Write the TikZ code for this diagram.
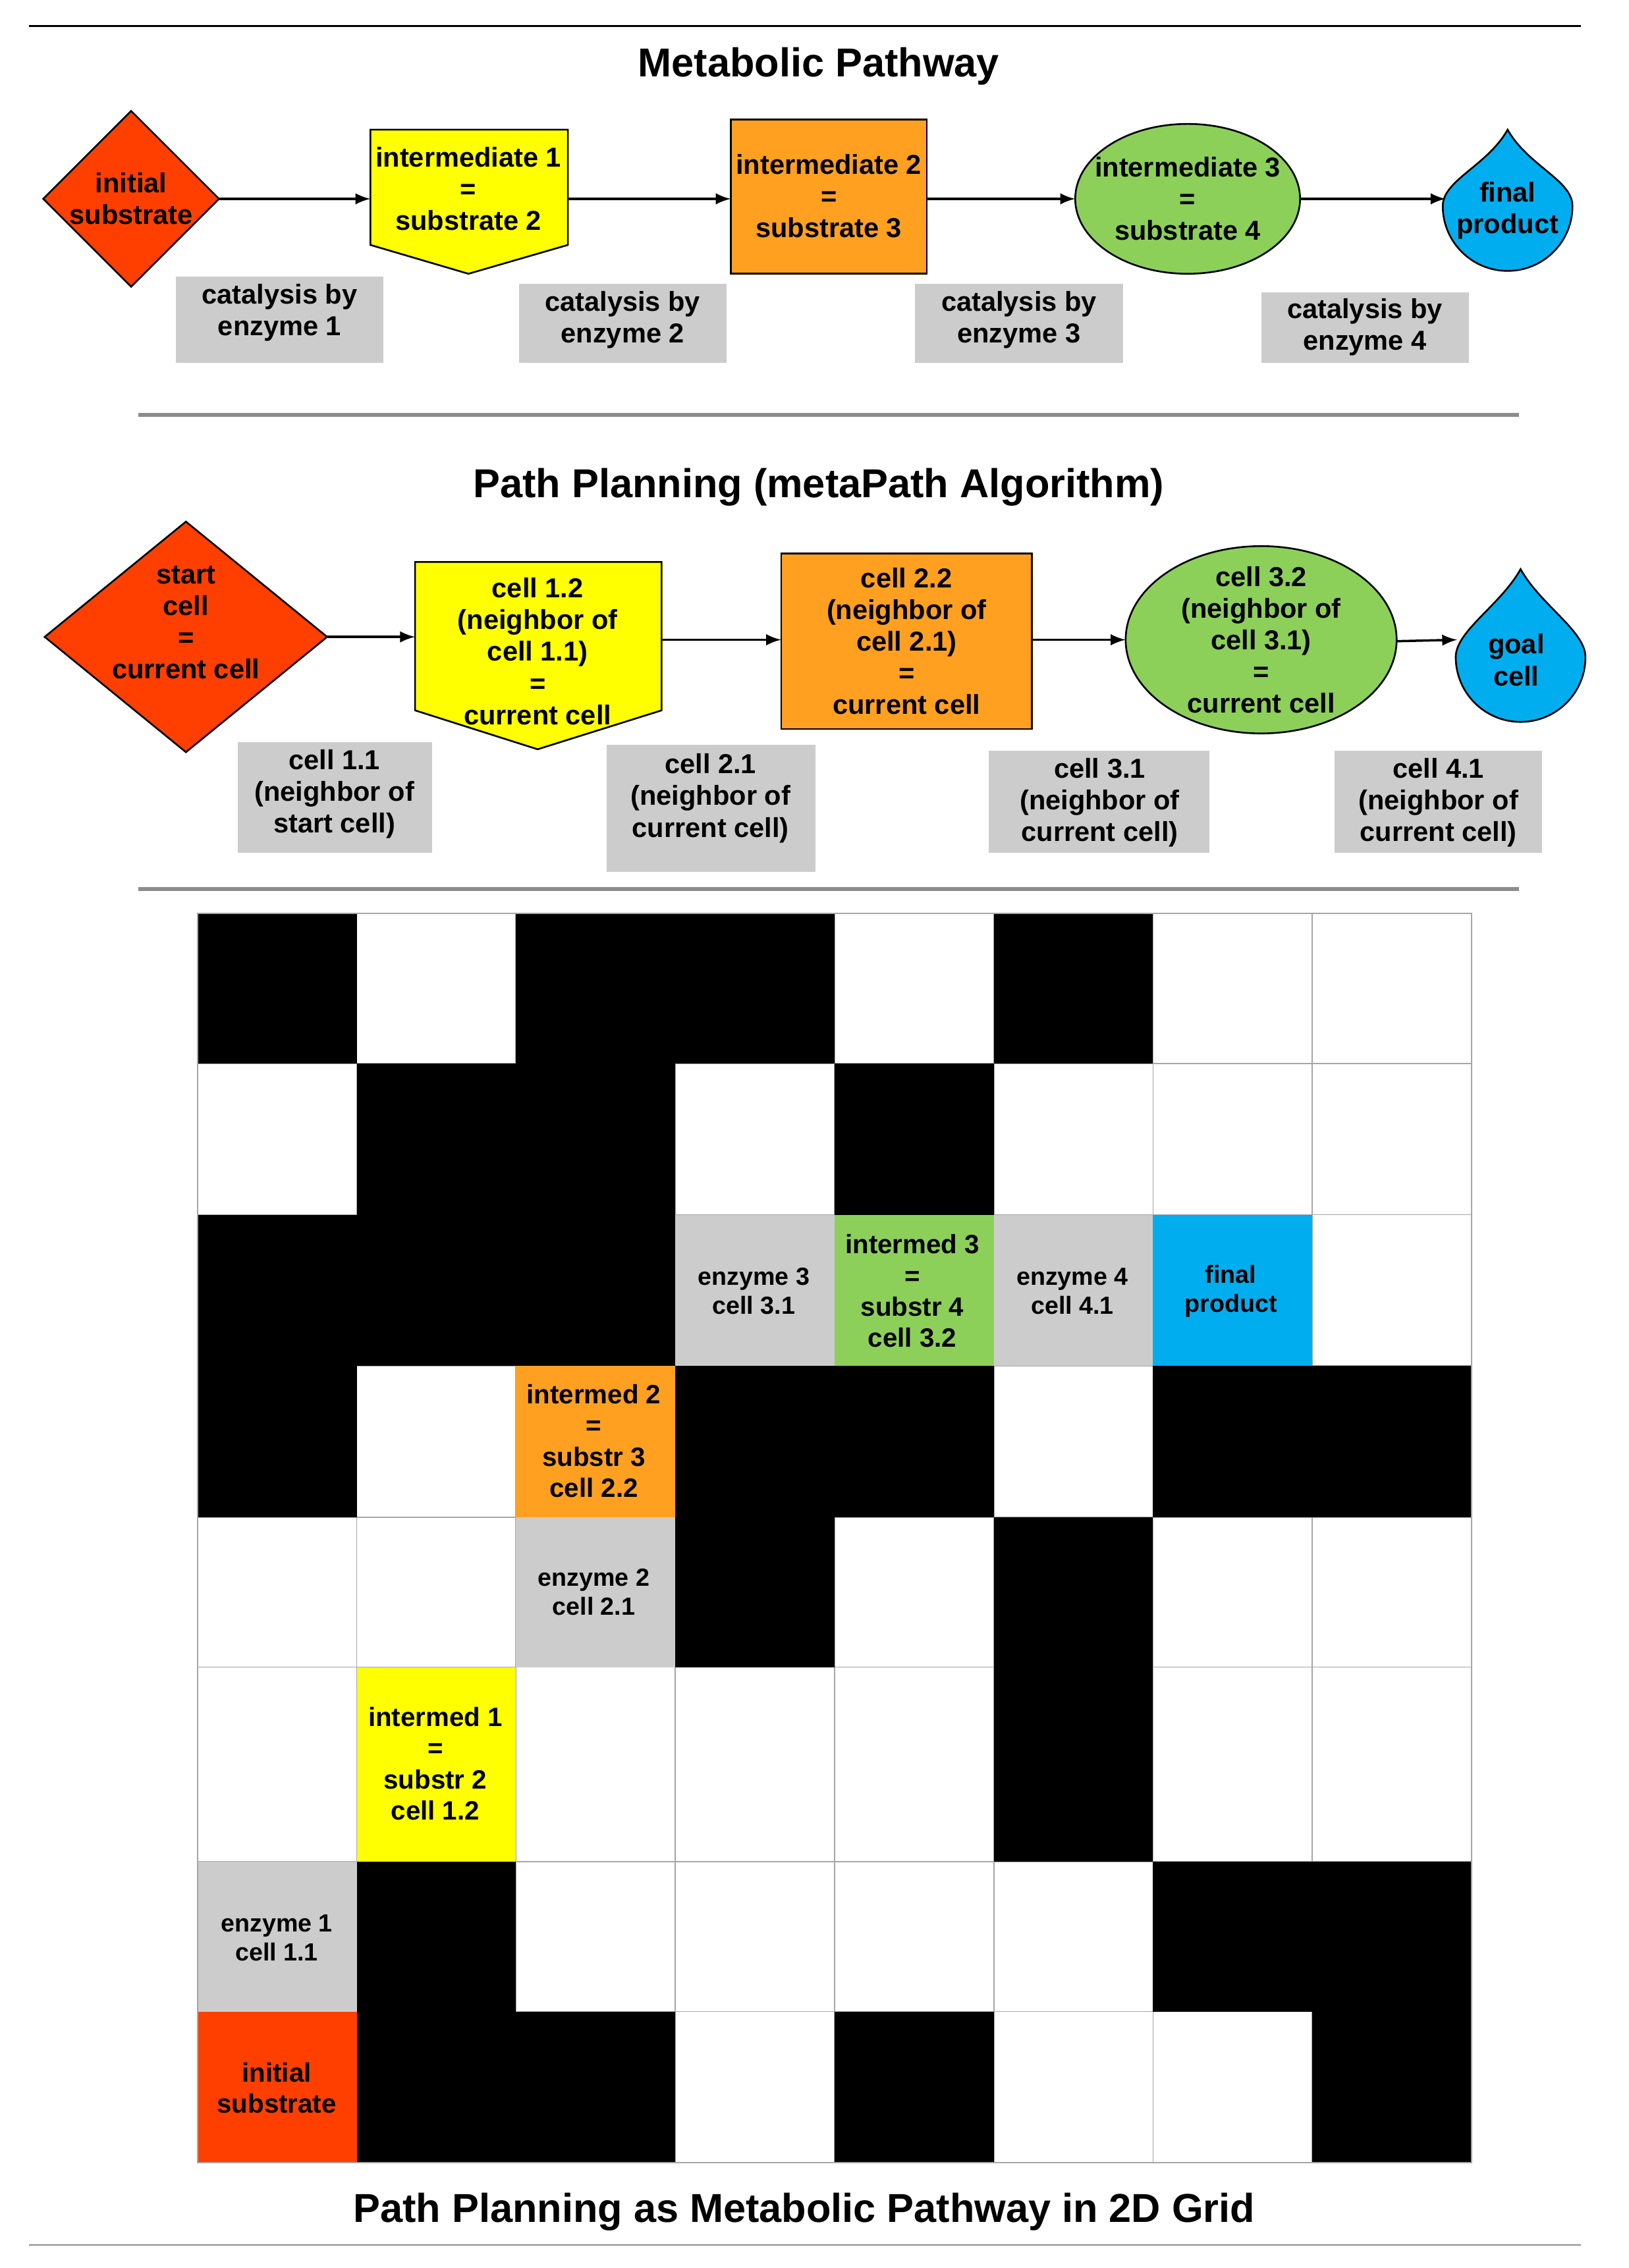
\documentclass[tikz,border=0pt]{standalone}
\usepackage{fontspec}
\setmainfont{Liberation Sans}
\definecolor{cred}{HTML}{FF3F00}
\definecolor{cyel}{HTML}{FFFF00}
\definecolor{cora}{HTML}{FFA020}
\definecolor{cgrn}{HTML}{8CD05A}
\definecolor{cblu}{HTML}{00AEEF}
\definecolor{cgry}{HTML}{CCCCCC}
\begin{document}
\begin{tikzpicture}[x=0.5pt,y=-0.5pt,
  lbl/.style={font=\bfseries\fontsize{9.5}{11}\selectfont,align=center,inner sep=0pt},
  ttl/.style={font=\bfseries\fontsize{14}{17}\selectfont,inner sep=0pt},
  cel/.style={font=\bfseries\fontsize{9.2}{10.8}\selectfont,align=center,inner sep=0pt},
  cels/.style={font=\bfseries\fontsize{8.6}{10}\selectfont,align=center,inner sep=0pt},
  shp/.style={draw=black,line width=0.6pt},
  arr/.style={-latex,line width=0.8pt},
  sep/.style={draw=black!45,line width=1.5pt}]
\useasboundingbox (0,0) rectangle (1130,1574);
\draw[line width=0.6pt] (20,18) -- (1097,18);
\node[ttl] (t1) at (568,46) {Metabolic Pathway};
% row 1 shapes
\draw[shp,fill=cred] (91,77) -- (152,138) -- (91,199) -- (30,138) -- cycle;
\node[lbl] (a1) at (91,138) {initial\\substrate};
\draw[shp,fill=cyel] (257,90) -- (394,90) -- (394,170) -- (325,190) -- (257,170) -- cycle;
\node[lbl] (a2) at (325,131) {intermediate 1\\=\\substrate 2};
\draw[shp,fill=cora] (507,83) rectangle (643,190);
\node[lbl] (a3) at (575,136) {intermediate 2\\=\\substrate 3};
\draw[shp,fill=cgrn] (824,138) ellipse [x radius=78,y radius=52];
\node[lbl] (a4) at (824,138) {intermediate 3\\=\\substrate 4};
\draw[shp,fill=cblu] (1046,90) .. controls (1060,115) and (1091,125) .. (1091,143) arc[start angle=0,end angle=180,radius=45] .. controls (1001,125) and (1032,115) .. (1046,90) -- cycle;
\node[lbl] (a5) at (1046,146) {final\\product};
\coordinate (e1) at (152,138); \coordinate (s2) at (257,138);
\coordinate (e2) at (394,138); \coordinate (s3) at (507,138);
\coordinate (e3) at (643,138); \coordinate (s4) at (746,138);
\coordinate (e4) at (902,138); \coordinate (s5) at (1003,138);
\draw[arr] (e1) -- (s2); \draw[arr] (e2) -- (s3); \draw[arr] (e3) -- (s4); \draw[arr] (e4) -- (s5);
\fill[cgry] (122,192) rectangle (266,252); \node[lbl] (c1) at (194,217) {catalysis by\\enzyme 1};
\fill[cgry] (360,197) rectangle (504,252); \node[lbl] (c2) at (432,222) {catalysis by\\enzyme 2};
\fill[cgry] (635,197) rectangle (779,252); \node[lbl] (c3) at (707,222) {catalysis by\\enzyme 3};
\fill[cgry] (875,203) rectangle (1019,252); \node[lbl] (c4) at (947,227) {catalysis by\\enzyme 4};
\draw[sep] (96,288) -- (1054,288);
% row 2
\node[ttl] (t2) at (568,338) {Path Planning (metaPath Algorithm)};
\draw[shp,fill=cred] (129,362) -- (227,442) -- (129,522) -- (31,442) -- cycle;
\node[lbl] (b1) at (129,432) {start\\cell\\=\\current cell};
\draw[shp,fill=cyel] (288,390) -- (459,390) -- (459,493) -- (373,520) -- (288,493) -- cycle;
\node[lbl] (b2) at (373,452) {cell 1.2\\(neighbor of\\cell 1.1)\\=\\current cell};
\draw[shp,fill=cora] (542,384) rectangle (716,506);
\node[lbl] (b3) at (629,445) {cell 2.2\\(neighbor of\\cell 2.1)\\=\\current cell};
\draw[shp,fill=cgrn] (875,444) ellipse [x radius=94,y radius=65];
\node[lbl] (b4) at (875,444) {cell 3.2\\(neighbor of\\cell 3.1)\\=\\current cell};
\draw[shp,fill=cblu] (1055,395) .. controls (1069,420) and (1100,438) .. (1100,456) arc[start angle=0,end angle=180,radius=45] .. controls (1010,438) and (1041,420) .. (1055,395) -- cycle;
\node[lbl] (b5) at (1052,458) {goal\\cell};
\coordinate (f1) at (227,442); \coordinate (g2) at (288,442);
\coordinate (f2) at (459,444); \coordinate (g3) at (542,444);
\coordinate (f3) at (716,444); \coordinate (g4) at (781,444);
\coordinate (f4) at (969,445); \coordinate (g5) at (1011,444);
\draw[arr] (f1) -- (g2); \draw[arr] (f2) -- (g3); \draw[arr] (f3) -- (g4); \draw[arr] (f4) -- (g5);
\fill[cgry] (165,515) rectangle (300,592); \node[lbl] (d1) at (232,551) {cell 1.1\\(neighbor of\\start cell)};
\fill[cgry] (421,517) rectangle (566,605); \node[lbl] (d2) at (493,554) {cell 2.1\\(neighbor of\\current cell)};
\fill[cgry] (686,521) rectangle (839,592); \node[lbl] (d3) at (763,557) {cell 3.1\\(neighbor of\\current cell)};
\fill[cgry] (926,521) rectangle (1070,592); \node[lbl] (d4) at (998,557) {cell 4.1\\(neighbor of\\current cell)};
\draw[sep] (96,617) -- (1054,617);
% grid
\def\rt{{634,738,843,948,1053,1157,1292,1396,1501}}
\foreach \i in {0,...,8} { \draw[black!35,line width=0.4pt] ({137+110.5*\i},634) -- ({137+110.5*\i},1501); }
\foreach \j in {0,...,8} { \pgfmathsetmacro\yy{\rt[\j]} \draw[black!35,line width=0.4pt] (137,\yy) -- (1021,\yy); }
\foreach \c/\r/\col in {0/0/black,2/0/black,3/0/black,5/0/black,
 1/1/black,2/1/black,4/1/black,
 0/2/black,1/2/black,2/2/black,3/2/cgry,4/2/cgrn,5/2/cgry,6/2/cblu,
 0/3/black,2/3/cora,3/3/black,4/3/black,6/3/black,7/3/black,
 2/4/cgry,3/4/black,5/4/black,
 1/5/cyel,5/5/black,
 0/6/cgry,1/6/black,6/6/black,7/6/black,
 0/7/cred,1/7/black,2/7/black,4/7/black,7/7/black} {
  \pgfmathsetmacro\ya{\rt[\r]} \pgfmathtruncatemacro\rn{\r+1} \pgfmathsetmacro\yb{\rt[\rn]}
  \fill[\col] ({137+110.5*\c},\ya) rectangle ({137+110.5*(\c+1)},\yb);
}
\draw[black!35,line width=0.4pt] (137,634) rectangle (1021,1501);
\node[cels] (g1) at (523,896) {enzyme 3\\cell 3.1};
\node[cel] (g2) at (633,896) {intermed 3\\=\\substr 4\\cell 3.2};
\node[cels] (g3) at (744,896) {enzyme 4\\cell 4.1};
\node[cels] (g4) at (854,896) {final\\product};
\node[cel] (g5) at (412,1000) {intermed 2\\=\\substr 3\\cell 2.2};
\node[cels] (g6) at (412,1105) {enzyme 2\\cell 2.1};
\node[cel] (g7) at (302,1224) {intermed 1\\=\\substr 2\\cell 1.2};
\node[cels] (g8) at (192,1345) {enzyme 1\\cell 1.1};
\node[cel] (g9) at (192,1449) {initial\\substrate};
\node[ttl] (t3) at (558,1535) {Path Planning as Metabolic Pathway in 2D Grid};
\draw[black!45,line width=0.6pt] (20,1558) -- (1097,1558);
\end{tikzpicture}
\end{document}
